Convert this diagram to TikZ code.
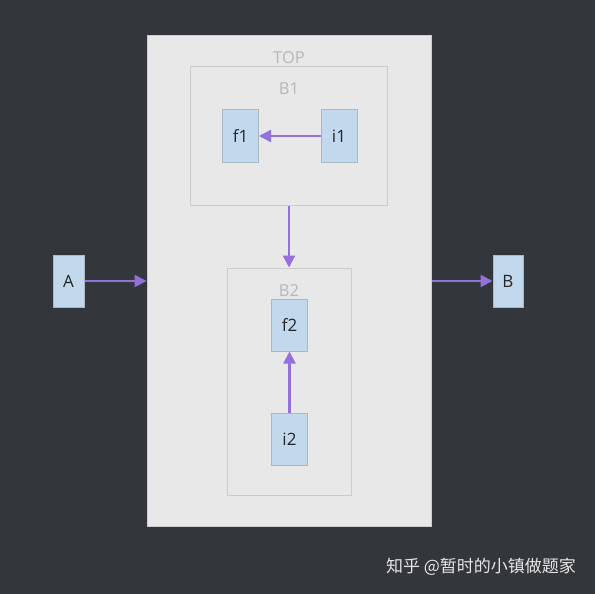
\documentclass[tikz,border=0pt]{standalone}
\usepackage{fontspec}
\setmainfont{Open Sans}
\newfontfamily\cjk{Noto Sans CJK SC}
\usetikzlibrary{arrows.meta}
\definecolor{fundal}{RGB}{51,55,59}
\definecolor{cutie}{RGB}{232,232,232}
\definecolor{marginecutie}{RGB}{204,204,204}
\definecolor{textcutie}{RGB}{184,184,184}
\definecolor{bloc}{RGB}{194,216,236}
\definecolor{marginebloc}{RGB}{170,184,198}
\definecolor{sageata}{RGB}{147,112,219}

\begin{document}
\begin{tikzpicture}[x=1pt,y=-1pt,
    container/.style={draw=marginecutie,fill=cutie,line width=1pt,inner sep=0pt},
    contlabel/.style={text=textcutie,font=\fontsize{16.5}{18}\selectfont,inner sep=0pt},
    bloc/.style={draw=marginebloc,fill=bloc,line width=1pt,inner sep=0pt,
      minimum width=36pt,minimum height=52pt,text=black!85,font=\fontsize{17}{19}\selectfont},
    leg/.style={draw=sageata,line width=2.2pt,-{Triangle[length=12pt,width=12pt]}}]
  % fundal
  \fill[fundal] (0,0) rectangle (595,594);
  \useasboundingbox (0,0) rectangle (595,594);

  % cutii
  \node[container,minimum width=284pt,minimum height=490pt] (TOP) at (289,281) {};
  \node[container,minimum width=197pt,minimum height=138pt] (B1) at (289,136) {};
  \node[container,minimum width=124pt,minimum height=227pt] (B2) at (289,381.5) {};

  % etichete cutii
  \node[contlabel] (tTOP) at (289,58) {TOP};
  \node[contlabel] (tB1) at (289,89) {B1};
  \node[contlabel] (tB2) at (289,291) {B2};

  % blocuri
  \node[bloc] (f1) at (240.5,136) {f1};
  \node[bloc] (i1) at (339,136) {i1};
  \node[bloc] (f2) at (289.5,325) {f2};
  \node[bloc] (i2) at (289.5,439) {i2};
  \node[bloc,minimum width=31pt] (A) at (68.5,281) {A};
  \node[bloc,minimum width=30pt] (B) at (508,281) {B};

  % legaturi
  \draw[leg] (i1.west) -- (f1.east);
  \draw[leg] (i2.north) -- (f2.south);
  \draw[leg] (B1.south) -- (B2.north);
  \draw[leg] (A.east) -- (TOP.west);
  \draw[leg] (TOP.east) -- (B.west);

  % semnatura
  \node[text=white!90!black,font=\cjk\fontsize{17}{19}\selectfont] (semn) at (481,567) {知乎 @暂时的小镇做题家};
\end{tikzpicture}
\end{document}
